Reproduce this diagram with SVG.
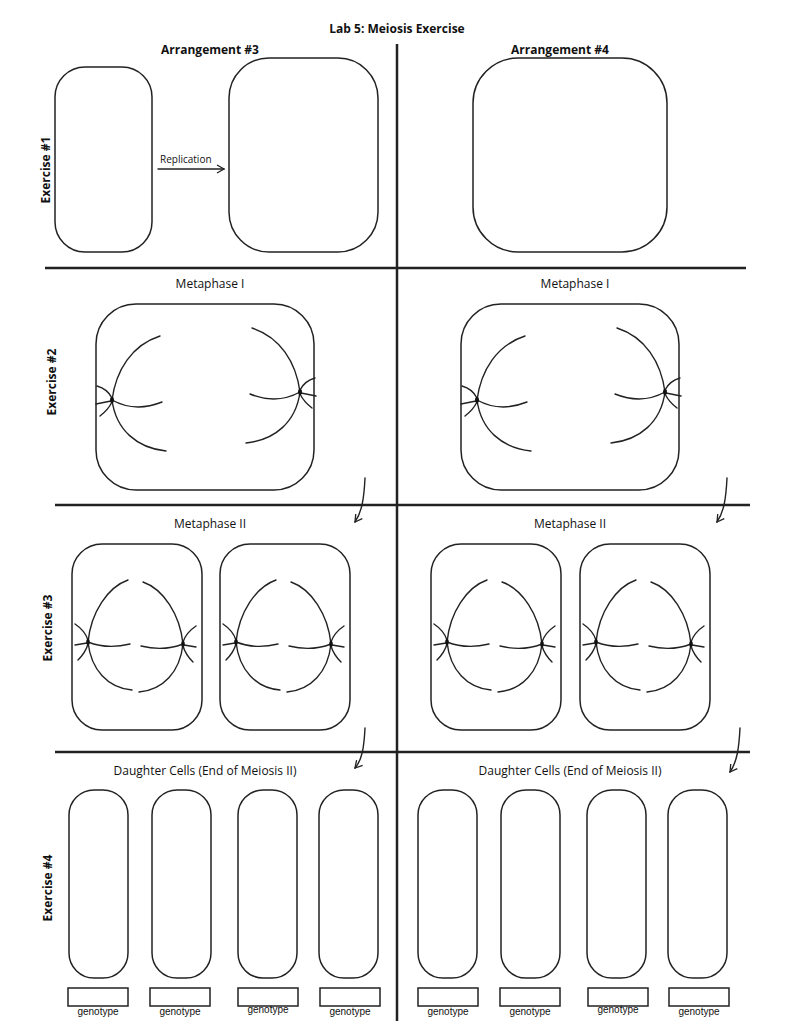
<svg xmlns="http://www.w3.org/2000/svg" xmlns:xlink="http://www.w3.org/1999/xlink" width="790" height="1024" viewBox="0 0 790 1024">
<style>
.c{fill:none;stroke:#222;stroke-width:1.5}
.s{fill:none;stroke:#222;stroke-width:1.4;stroke-linecap:round}
.l{stroke:#222;stroke-width:2.5}
.t{font-family:"Open Sans","Liberation Sans",sans-serif;font-size:12px;fill:#111;text-anchor:middle}
.b{font-family:"Open Sans","Liberation Sans",sans-serif;font-size:12px;font-weight:bold;fill:#111;text-anchor:middle}
.g{font-family:"Liberation Sans",sans-serif;font-size:10px;fill:#111;text-anchor:middle}
</style>
<defs>
<marker id="ah" markerWidth="10" markerHeight="10" refX="8" refY="5" orient="auto" markerUnits="userSpaceOnUse"><path d="M1,1 L8,5 L1,9" fill="none" stroke="#222" stroke-width="1.3"/></marker>
<g id="p2"><path class="s" d="M0,0 C4,-30 20,-55 48,-64"/><path class="s" d="M0,0 C18,10 35,8 50,2"/><path class="s" d="M0,0 C4,30 25,48 54,51"/><path class="s" d="M-15,-14 C-8,-12 -3,-8 0,-2"/><path class="s" d="M0,2 C-3,8 -8,13 -12,16"/><path class="s" d="M-16,4 L-1,1"/><ellipse cx="0" cy="0" rx="2" ry="3" fill="#111"/></g>
<g id="p3"><path class="s" d="M0,0 C3,-30 20,-55 40,-62"/><path class="s" d="M0,0 C15,6 30,5 42,2"/><path class="s" d="M0,0 C3,28 20,46 44,48"/><path class="s" d="M-13,-18 C-7,-14 -2,-8 0,-2"/><path class="s" d="M0,2 C-2,9 -6,14 -10,18"/><path class="s" d="M-13,3 L-1,1"/><ellipse cx="0" cy="0" rx="1.8" ry="3" fill="#111"/></g>
</defs>
<text class="b" x="397" y="33">Lab 5: Meiosis Exercise</text>
<text class="b" x="210" y="54">Arrangement #3</text>
<text class="b" x="560" y="54">Arrangement #4</text>
<g id="lines">
<line class="l" x1="397" y1="44" x2="397" y2="1021"/>
<line class="l" x1="45" y1="268" x2="746" y2="268"/>
<line class="l" x1="55" y1="505" x2="750" y2="505"/>
<line class="l" x1="55" y1="752" x2="750" y2="752"/>
</g>
<text class="b" transform="translate(50,170) rotate(-90)">Exercise #1</text>
<text class="b" transform="translate(56,382) rotate(-90)">Exercise #2</text>
<text class="b" transform="translate(52,628) rotate(-90)">Exercise #3</text>
<text class="b" transform="translate(52,888) rotate(-90)">Exercise #4</text>
<g id="ex1">
<rect class="c" x="55" y="67" width="97" height="185" rx="30"/>
<rect class="c" x="229" y="58" width="149" height="194" rx="40"/>
<rect class="c" x="473" y="58" width="194" height="194" rx="45"/>
<text x="160" y="163" font-family="'Open Sans','Liberation Sans',sans-serif" font-size="10" fill="#111">Replication</text>
</g>
<g id="connectors">
<line class="s" x1="158" y1="169" x2="224" y2="169" marker-end="url(#ah)"/>
<path class="s" d="M365,478 C364,498 362,512 355,522" marker-end="url(#ah)"/>
<path class="s" d="M727,478 C726,498 724,512 717,522" marker-end="url(#ah)"/>
<path class="s" d="M365,728 C364,748 362,760 355,768" marker-end="url(#ah)"/>
<path class="s" d="M740,728 C739,748 737,762 730,772" marker-end="url(#ah)"/>
</g>
<text class="t" x="210" y="288">Metaphase I</text>
<text class="t" x="575" y="288">Metaphase I</text>
<g id="ex2">
<rect class="c" x="96" y="304" width="218" height="186" rx="40"/>
<use href="#p2" x="112" y="400"/>
<use href="#p2" transform="translate(300,392) scale(-1,1)"/>
<rect class="c" x="461" y="304" width="218" height="186" rx="40"/>
<use href="#p2" x="477" y="400"/>
<use href="#p2" transform="translate(665,392) scale(-1,1)"/>
</g>
<text class="t" x="210" y="528">Metaphase II</text>
<text class="t" x="570" y="528">Metaphase II</text>
<g id="ex3">
<rect class="c" x="72" y="544" width="130" height="186" rx="30"/>
<use href="#p3" x="88" y="642"/>
<use href="#p3" transform="translate(183,644) scale(-1,1)"/>
<rect class="c" x="220" y="544" width="130" height="186" rx="30"/>
<use href="#p3" x="236" y="642"/>
<use href="#p3" transform="translate(331,644) scale(-1,1)"/>
<rect class="c" x="431" y="544" width="130" height="186" rx="30"/>
<use href="#p3" x="447" y="642"/>
<use href="#p3" transform="translate(542,644) scale(-1,1)"/>
<rect class="c" x="580" y="544" width="130" height="186" rx="30"/>
<use href="#p3" x="596" y="642"/>
<use href="#p3" transform="translate(691,644) scale(-1,1)"/>
</g>
<text class="t" x="205" y="775">Daughter Cells (End of Meiosis II)</text>
<text class="t" x="570" y="775">Daughter Cells (End of Meiosis II)</text>
<g id="ex4">
<rect class="c" x="69" y="790" width="59" height="188" rx="25"/>
<rect class="c" x="152" y="790" width="59" height="188" rx="25"/>
<rect class="c" x="238" y="790" width="59" height="188" rx="25"/>
<rect class="c" x="319" y="790" width="59" height="188" rx="25"/>
<rect class="c" x="418" y="790" width="59" height="188" rx="25"/>
<rect class="c" x="501" y="790" width="59" height="188" rx="25"/>
<rect class="c" x="587" y="790" width="59" height="188" rx="25"/>
<rect class="c" x="668" y="790" width="59" height="188" rx="25"/>
<rect class="c" x="68" y="988" width="60" height="18"/>
<rect class="c" x="150" y="988" width="60" height="18"/>
<rect class="c" x="238" y="988" width="60" height="18"/>
<rect class="c" x="320" y="988" width="60" height="18"/>
<rect class="c" x="418" y="988" width="60" height="18"/>
<rect class="c" x="500" y="988" width="60" height="18"/>
<rect class="c" x="588" y="988" width="60" height="18"/>
<rect class="c" x="669" y="988" width="60" height="18"/>
<text class="g" x="98" y="1015">genotype</text>
<text class="g" x="180" y="1015">genotype</text>
<text class="g" x="268" y="1013">genotype</text>
<text class="g" x="350" y="1015">genotype</text>
<text class="g" x="448" y="1015">genotype</text>
<text class="g" x="530" y="1015">genotype</text>
<text class="g" x="618" y="1013">genotype</text>
<text class="g" x="699" y="1015">genotype</text>
</g>
</svg>
